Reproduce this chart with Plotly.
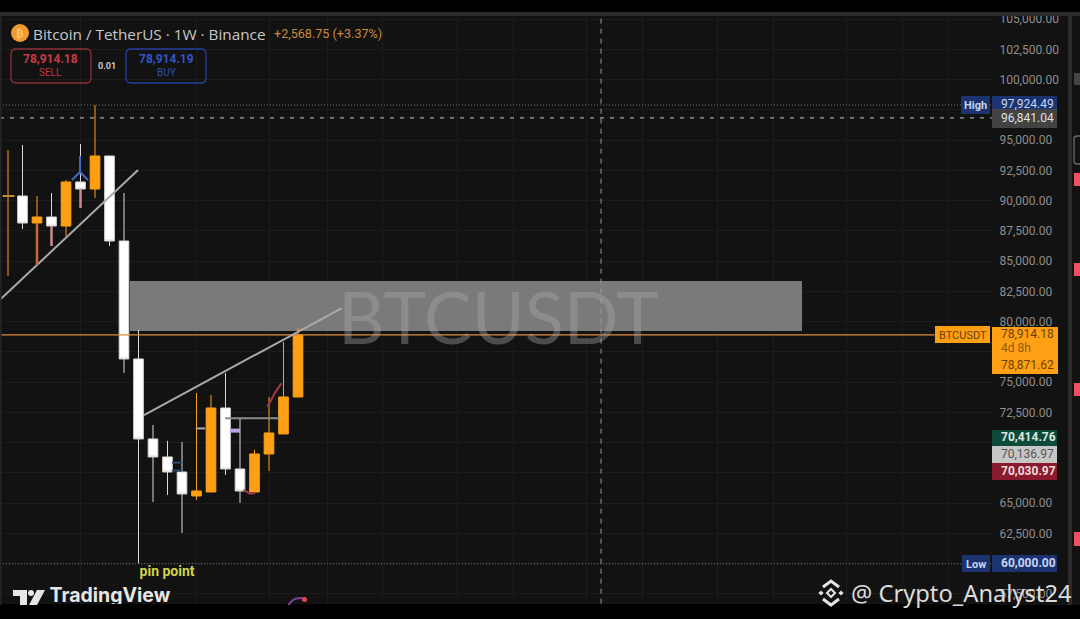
import plotly.graph_objects as go

W, H = 1080, 619
ML, MR, MT, MB = 0, 88, 16, 15
PW, PH = W - ML - MR, H - MT - MB

# ---------- data ----------
week = list(range(21))
open_ = [90350, 90389, 88158, 88653, 87910, 91547, 90968, 93695, 86671, 76920, 70311,
         68823, 67583, 65600, 65930, 72872, 67831, 65930, 69071, 70724, 73781]
high = [94190, 94604, 90389, 90637, 91712, 94686, 97909, 93695, 90637, 79316, 71468,
        70146, 70063, 74111, 73946, 75763, 72046, 69402, 73781, 78324, 79481]
low = [83779, 87662, 84688, 86258, 87084, 89397, 90224, 86258, 75763, 60000, 65104,
       65682, 62542, 65269, 65930, 67335, 65021, 65930, 67666, 70724, 73781]
close = [90430, 88158, 88653, 87910, 91547, 90968, 93695, 86671, 76920, 70311, 68823,
         67583, 65765, 66013, 72872, 67831, 66013, 69071, 70807, 73781, 78914]

price_ticks = [105000, 102500, 100000, 97500, 95000, 92500, 90000, 87500, 85000, 82500, 80000,
               77500, 75000, 72500, 70000, 67500, 65000, 62500, 60000, 57500]
price_labels = ["105,000.00", "102,500.00", "100,000.00", "", "95,000.00", "92,500.00", "90,000.00",
                "87,500.00", "85,000.00", "82,500.00", "80,000.00", "", "75,000.00", "72,500.00",
                "", "", "65,000.00", "62,500.00", "", "57,500.00"]
time_grid = [4.97, 13.03, 18.0, 22.0, 25.86, 30.97, 34.83, 39.93, 43.79, 48.9, 52.76, 57.86, 61.72, 64.83]

trend_a_x, trend_a_y = [-0.5, 8.97], [81877, 92534]
trend_b_x, trend_b_y = [9.38, 23.03], [72290, 81130]
high_price, low_price, last_price, cross_price = 97909, 60000, 78914, 96841
zone_x, zone_y = [8.41, 54.76], [79233, 83359]
cross_time = 40.9
draw_sets = [
    ([14.97, 18.7], [72020, 72020], "#8b8b8b", 2),
    ([12.95, 13.6], [71180, 71180], "#a8a8a8", 2),
    ([11.3, 12.0], [68350, 68350], "#2f4a60", 2),
    ([11.3, 12.0], [67700, 67700], "#2f4a60", 2),
    ([15.3, 16.0], [71000, 71000], "#b9a6e0", 4),
    ([4.41, 4.97, 5.52], [91711, 92372, 91711], "#4a68c0", 2),
    ([4.97, 4.97], [93695, 92372], "#4a68c0", 2),
    ([17.9, 18.4, 18.85], [73000, 74100, 74900], "#a33a48", 2),
    ([16.25, 16.7, 17.05], [66100, 65780, 65850], "#a33a48", 2),
    ([-0.25, 0.45], [90389, 90389], "#b98740", 2),
    ([2.0, 2.0], [88158, 84688], "#c8683c", 2.5),
    ([3.0, 3.0], [87910, 86258], "#c98c92", 2.5),
    ([5.0, 5.0], [90968, 89397], "#c98c92", 2.5),
]

# ---------- pixel helpers for the chrome around the chart ----------
def fx(px): return (px - ML) / PW
def fy(py): return 1 - (py - MT) / PH

shapes, notes = [], []

def box(x0, y0, x1, y1, fill, line=None, layer="below"):
    shapes.append(dict(type="rect", xref="paper", yref="paper", x0=fx(x0), x1=fx(x1), y0=fy(y0), y1=fy(y1),
                       fillcolor=fill, line=dict(color=line or fill, width=1 if line else 0), layer=layer))

def rbox(x0, y0, x1, y1, line, r=5):
    p = (f"M {fx(x0+r)} {fy(y0)} L {fx(x1-r)} {fy(y0)} Q {fx(x1)} {fy(y0)} {fx(x1)} {fy(y0+r)} "
         f"L {fx(x1)} {fy(y1-r)} Q {fx(x1)} {fy(y1)} {fx(x1-r)} {fy(y1)} "
         f"L {fx(x0+r)} {fy(y1)} Q {fx(x0)} {fy(y1)} {fx(x0)} {fy(y1-r)} "
         f"L {fx(x0)} {fy(y0+r)} Q {fx(x0)} {fy(y0)} {fx(x0+r)} {fy(y0)} Z")
    shapes.append(dict(type="path", xref="paper", yref="paper", path=p, line=dict(color=line, width=1.3), layer="above"))

def poly(pts, fill=None, line=None, width=1.5, closed=True):
    p = "M " + " L ".join(f"{fx(a)} {fy(b)}" for a, b in pts) + (" Z" if closed else "")
    shapes.append(dict(type="path", xref="paper", yref="paper", path=p, fillcolor=fill or "rgba(0,0,0,0)",
                       line=dict(color=line or "rgba(0,0,0,0)", width=width), layer="above"))

def text(px, py, s, size=12, color="#cccccc", anchor="left", family="Roboto"):
    notes.append(dict(xref="paper", yref="paper", x=fx(px), y=fy(py), text=s, showarrow=False, xanchor=anchor,
                      yanchor="middle", font=dict(family=family, size=size, color=color), borderpad=0))

# axis strip and outer frame
box(992, 14, 1080, 605, "#121212")
box(0, 0, 1080, 12, "#000000", layer="above")
box(0, 12, 1080, 16, "#2a2a2a", layer="above")
box(0, 605, 1080, 619, "#000000", layer="above")
box(0, 16, 1.5, 605, "#262626", layer="above")
box(1068, 16, 1072, 605, "#2b2b2b", layer="above")
for a, b in [(173, 186), (263, 276), (383, 396), (532, 546)]:
    box(1074, a, 1080, b, "#f0505f", layer="above")
box(1074, 73, 1080, 85, "#444444", layer="above")
rbox(1074, 136, 1086, 164, "#6a6a6a", r=3)

# price tags
box(961, 96, 990, 114, "#1b3470", layer="above")
box(992, 96, 1057, 110, "#1b3470", layer="above")
text(975.5, 105, "<b>High</b>", 11, "#c8d4f0", "center")
text(1000, 104, "97,924.49", 12, "#c8d4f0")
box(992, 109, 1057, 128, "#434343", layer="above")
text(1000, 118, "96,841.04", 12, "#e0e0e0")
box(935, 326, 990, 343, "#ff9f14", layer="above")
text(962.5, 335, "BTCUSDT", 11, "#6b4100", "center")
box(992, 327, 1058, 374, "#ff9f14", layer="above")
text(1000, 334, "78,914.18", 12, "#6b4100")
text(1000, 348, "4d 8h", 12, "#8f5c08")
text(1000, 365, "78,871.62", 12, "#6b4100")
box(992, 430, 1057, 446, "#0d4a3a", layer="above")
text(1000, 437, "<b>70,414.76</b>", 12, "#d8e8e2")
box(992, 446, 1057, 463, "#c6c6c6", layer="above")
text(1000, 454, "70,136.97", 12, "#555555")
box(992, 463, 1057, 480, "#8a1a2e", layer="above")
text(1000, 471, "<b>70,030.97</b>", 12, "#f0dcdc")
box(962, 555, 990, 572, "#1b3470", layer="above")
box(992, 555, 1057, 572, "#1b3470", layer="above")
text(976, 564, "<b>Low</b>", 11, "#c8d4f0", "center")
text(1000, 563, "<b>60,000.00</b>", 12, "#c8d4f0")

# header
shapes.append(dict(type="circle", xref="paper", yref="paper", x0=fx(11), x1=fx(29), y0=fy(24), y1=fy(42),
                   fillcolor="#f29a2e", line=dict(width=0), layer="above"))
text(20, 33.5, "₿", 11, "#ffd9a0", "center", "DejaVu Sans")
text(32, 33.5, "Bitcoin / TetherUS · 1W · Binance", 15.3, "#c8c8c8", family="Open Sans")
text(273, 33.5, "+2,568.75 (+3.37%)", 12.6, "#c88a3c")
rbox(11, 49, 91, 83, "#8c3038")
text(50.5, 59, "<b>78,914.18</b>", 12, "#c83c46", "center")
text(50.5, 72, "SELL", 10, "#b83a44", "center")
text(107, 66, "<b>0.01</b>", 9, "#c8c8c8", "center")
rbox(126, 49, 206, 83, "#2440a0")
text(166, 59, "<b>78,914.19</b>", 12, "#3056c8", "center")
text(166, 72, "BUY", 10, "#2f4fb0", "center")

# TradingView logo
poly([(13, 590), (27, 590), (27, 605), (20, 605), (20, 596), (13, 596)], fill="#e6e6e6")
poly([(37, 590), (45, 590), (37, 605), (29, 605)], fill="#e6e6e6")
shapes.append(dict(type="circle", xref="paper", yref="paper", x0=fx(28), x1=fx(34), y0=fy(590), y1=fy(596),
                   fillcolor="#e6e6e6", line=dict(width=0), layer="above"))

# gauge icon, cut off by the lower band
shapes.append(dict(type="path", xref="paper", yref="paper", layer="below",
                   path=f"M {fx(288)} {fy(607)} Q {fx(291)} {fy(597)} {fx(303)} {fy(598)}",
                   line=dict(color="#7a3fa0", width=2)))
shapes.append(dict(type="circle", xref="paper", yref="paper", layer="below", x0=fx(302), x1=fx(307), y0=fy(597), y1=fy(602),
                   fillcolor="#e8454f", line=dict(width=0)))

# publisher mark
cx, cy = 831, 593
poly([(cx-8, cy-6), (cx, cy-12), (cx+8, cy-6)], line="#e4e4e4", width=3, closed=False)
poly([(cx-8, cy+6), (cx, cy+12), (cx+8, cy+6)], line="#e4e4e4", width=3, closed=False)
poly([(cx, cy-4), (cx+4, cy), (cx, cy+4), (cx-4, cy)], line="#e4e4e4", width=2)
for dx in (-10, 10):
    poly([(cx+dx, cy-2.6), (cx+dx+2.6, cy), (cx+dx, cy+2.6), (cx+dx-2.6, cy)], fill="#e4e4e4")
text(850, 593, "@ Crypto_Analyst24", 23.7, "#dcdcdc", family="Noto Sans")

# big symbol watermark
text(498, 315.5, "BTCUSDT", 72, "rgba(170,170,170,0.38)", "center", "Lato")

fig = go.Figure()

# data-anchored zone and level lines
shapes.append(dict(type="rect", xref="x", yref="y", x0=zone_x[0], x1=zone_x[1], y0=zone_y[0], y1=zone_y[1],
                   fillcolor="#7a7a7a", line=dict(width=0), layer="between"))

def add_line(x, y, color, width, dash="solid"):
    fig.add_trace(go.Scatter(x=x, y=y, mode="lines", line=dict(color=color, width=width, dash=dash),
                             hoverinfo="skip", showlegend=False))

right_edge = 67.86
add_line([-0.55, right_edge], [high_price]*2, "#6e6e6e", 1, "1px,2px")
add_line([-0.55, right_edge], [low_price]*2, "#6e6e6e", 1, "1px,2px")
add_line([-0.55, right_edge], [cross_price]*2, "#c8c8c8", 1, "4px,6px")
add_line([cross_time]*2, [56700, 105300], "#9a9a9a", 1, "5px,5px")
add_line([-0.55, 63.9], [last_price]*2, "#e08a3a", 1.2)
add_line(trend_a_x, trend_a_y, "#a9a9a9", 2)
add_line(trend_b_x, trend_b_y, "#a9a9a9", 2)
for dx_, dy_, col, wid in draw_sets[:5] + draw_sets[7:9]:
    add_line(dx_, dy_, col, wid)
for dx_, dy_, col, wid in draw_sets[5:7]:
    add_line(dx_, dy_, col, wid)

fig.add_trace(go.Candlestick(
    x=week, open=open_, high=high, low=low, close=close, whiskerwidth=0,
    increasing=dict(line=dict(color="#ff9f14", width=1), fillcolor="#ff9f14"),
    decreasing=dict(line=dict(color="#d8d8d8", width=1), fillcolor="#ffffff"),
    hoverinfo="skip", showlegend=False))

for dx_, dy_, col, wid in draw_sets[9:]:
    add_line(dx_, dy_, col, wid)

fig.add_trace(go.Scatter(x=[10.97], y=[59235], mode="text", text=["<b>pin point</b>"],
                         textfont=dict(family="Roboto", size=14, color="#d2d24e"),
                         hoverinfo="skip", showlegend=False))
fig.add_trace(go.Scatter(x=[7.03], y=[57250], mode="text", text=["<b>TradingView</b>"],
                         textfont=dict(family="Inter", size=19.5, color="#e6e6e6"),
                         hoverinfo="skip", showlegend=False))

fig.update_layout(
    width=W, height=H, margin=dict(l=ML, r=MR, t=MT, b=MB, pad=0), autosize=False,
    paper_bgcolor="#000000", plot_bgcolor="#121212", boxgap=0.05, showlegend=False,
    shapes=shapes, annotations=notes, dragmode=False,
    xaxis=dict(range=[-0.5517, 67.862], rangeslider=dict(visible=False), tickmode="array", tickvals=time_grid,
               ticktext=[""]*len(time_grid), showgrid=True, gridcolor="#1c1c1c", gridwidth=1, zeroline=False,
               showline=False, ticks="", fixedrange=True),
    yaxis=dict(range=[56672, 105264], side="right", tickmode="array", tickvals=price_ticks, ticktext=price_labels,
               showgrid=True, gridcolor="#1c1c1c", gridwidth=1, zeroline=False, showline=False,
               ticks="outside", ticklen=4, tickcolor="rgba(0,0,0,0)",
               tickfont=dict(family="Roboto", size=12, color="#8e8e8e"), fixedrange=True),
)
fig.write_html("out.html", config=dict(displayModeBar=False),
               post_script="document.body.style.margin='0';document.documentElement.style.background='#000';")
